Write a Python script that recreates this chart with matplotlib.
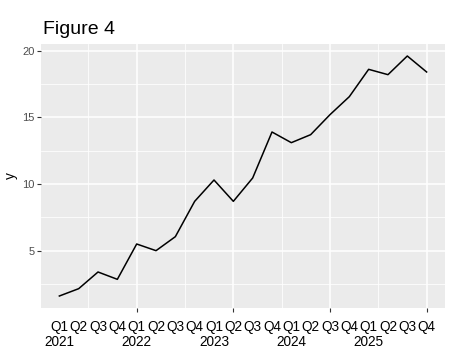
"""Figure 4: quarterly series 2021-2025 drawn as a ggplot-style line chart."""
import matplotlib
matplotlib.use("Agg")
import matplotlib.pyplot as plt
import matplotlib.transforms as mtransforms
import numpy as np

plt.rcParams["font.family"] = ["Liberation Sans", "DejaVu Sans"]

# -----------------------------------------------------------------------------
# Data
# -----------------------------------------------------------------------------
quarters = ["Q1", "Q2", "Q3", "Q4"] * 5
years = ["2021", "", "", "", "2022", "", "", "", "2023", "", "", "",
         "2024", "", "", "", "2025", "", "", ""]
values = [1.6, 2.15, 3.4, 2.85, 5.5, 5.0, 6.05, 8.7, 10.3, 8.7,
          10.45, 13.9, 13.1, 13.7, 15.2, 16.55, 18.6, 18.2, 19.6, 18.4]
y_ticks = [5, 10, 15, 20]
x_ticks = [5, 10, 15, 20]

x = np.arange(1, len(values) + 1)

# -----------------------------------------------------------------------------
# Figure
# -----------------------------------------------------------------------------
W, H = 474, 355
fig = plt.figure(figsize=(W / 100, H / 100), dpi=100)
ax = fig.add_axes([41 / W, 1 - 308 / H, (445 - 41) / W, (308 - 44) / H])
ax.set_facecolor("#EBEBEB")

ax.plot(x, values, color="black", lw=1.1, zorder=3)

# ggplot default expansion (5%)
xr = x.max() - x.min()
ax.set_xlim(x.min() - 0.05 * xr, x.max() + 0.05 * xr)
yr = max(values) - min(values)
ax.set_ylim(min(values) - 0.05 * yr, max(values) + 0.05 * yr)

ax.set_xticks(x_ticks)
ax.set_xticklabels([""] * len(x_ticks))
ax.set_xticks([2.5, 7.5, 12.5, 17.5], minor=True)
ax.set_yticks(y_ticks)
ax.set_yticks([2.5, 7.5, 12.5, 17.5], minor=True)

ax.grid(which="major", color="white", lw=1.1)
ax.grid(which="minor", color="white", lw=0.55)
ax.set_axisbelow(True)
for s in ax.spines.values():
    s.set_visible(False)

ax.tick_params(which="major", length=3, width=0.8, color="#333333",
               labelcolor="#4D4D4D", labelsize=8, pad=1.5)
ax.tick_params(which="minor", length=0)

ax.set_ylabel("y", fontsize=9.8)
ax.yaxis.set_label_coords((18 - 41) / 404, 0.5)

# quarter / year labels under the panel
trans = mtransforms.blended_transform_factory(ax.transData, fig.transFigure)
for xi, q, yr_lab in zip(x, quarters, years):
    ax.text(xi, 1 - 331 / H, q, transform=trans, ha="center", va="baseline",
            fontsize=9.8, color="black")
    if yr_lab:
        ax.text(xi, 1 - 345.5 / H, yr_lab, transform=trans, ha="center",
                va="baseline", fontsize=9.8, color="black")

fig.text(43 / W, 1 - 34 / H, "Figure 4", fontsize=14, va="baseline")

fig.savefig("out.png", dpi=100)
